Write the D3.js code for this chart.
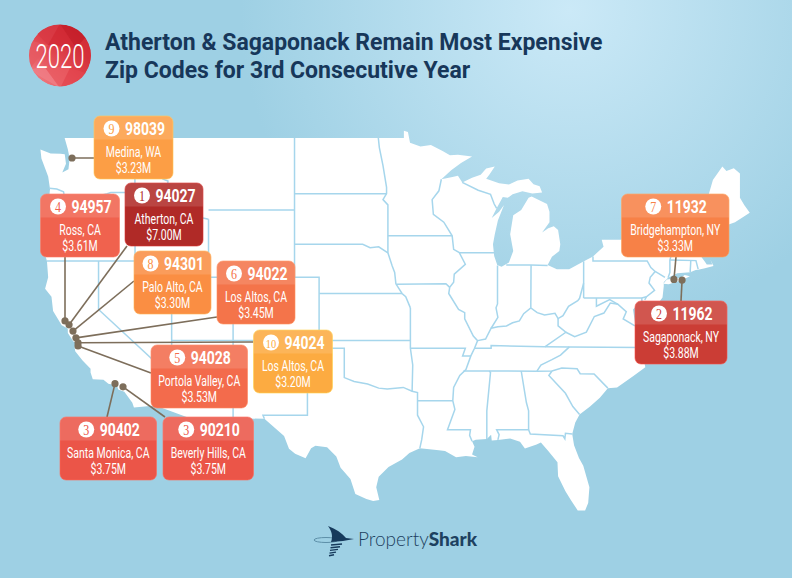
<!DOCTYPE html>
<html>
<head>
<meta charset="UTF-8">
<title>Most Expensive Zip Codes 2020</title>
<script src="https://cdnjs.cloudflare.com/ajax/libs/d3/7.8.5/d3.min.js"></script>
<style>
html, body { margin: 0; padding: 0; background: #9ed0e4; overflow: hidden; }
svg { display: block; }
.narrow { font-family: Roboto, sans-serif; }
</style>
</head>
<body>
<script>
// zip code data
var ranks = [9, 4, 1, 8, 6, 10, 5, 3, 3, 7, 2];
var zips = ["98039", "94957", "94027", "94301", "94022", "94024", "94028", "90402", "90210", "11932", "11962"];
var places = ["Medina, WA", "Ross, CA", "Atherton, CA", "Palo Alto, CA", "Los Altos, CA", "Los Altos, CA",
	"Portola Valley, CA", "Santa Monica, CA", "Beverly Hills, CA", "Bridgehampton, NY", "Sagaponack, NY"];
var prices = [3.23, 3.61, 7.00, 3.30, 3.45, 3.20, 3.53, 3.75, 3.75, 3.33, 3.88];
var dotLon = [-122.16, -122.73, -122.40, -122.08, -121.84, -121.67, -121.67, -118.66, -118.01, -73.17, -72.51];
var dotLat = [47.92, 38.27, 38.02, 37.62, 37.18, 36.86, 36.65, 34.15, 33.94, 40.87, 40.83];

var titleLines = ["Atherton & Sagaponack Remain Most Expensive", "Zip Codes for 3rd Consecutive Year"];

// map outline, lon/lat
var landOutline = [[-124.73,48.38],[-123.9,48.16],[-123.1,48.15],[-122.75,48.12],[-122.65,47.6],[-122.95,47.12],[-122.45,47.3],[-122.35,47.9],[-122.5,48.4],[-122.76,49],
	[-95.15,49],[-95.15,49.38],[-94.82,49.32],[-94.65,48.75],[-93.8,48.55],[-92.95,48.62],[-92,48.3],[-91.4,48.07],[-90.75,48.1],[-89.6,48],
	[-90.5,47.65],[-91.3,47.25],[-92.1,46.75],[-91.2,46.87],[-90.75,46.95],[-90.4,46.57],[-89.6,46.83],[-88.9,47],[-88.45,47.35],[-87.75,47.45],[-88.2,47],[-88.45,46.78],[-87.4,46.52],[-86.6,46.45],[-85.9,46.68],[-85,46.77],[-84.6,46.47],[-84.1,46.35],[-83.9,46],[-84.7,45.95],
	[-85.5,46.08],[-86.3,45.9],[-86.7,45.7],[-87.1,45.75],[-87.6,45.1],[-88,44.55],[-87.4,44.9],[-87,45.3],[-87.5,44.4],[-87.75,43.6],[-87.9,43],[-87.8,42.3],[-87.55,41.75],[-87.2,41.65],[-86.6,41.9],[-86.25,42.6],[-86.5,43.6],[-86.25,44.7],[-85.6,45],[-85,45.7],[-84.75,45.78],
	[-83.5,45.35],[-83.3,44.9],[-83.3,44.3],[-83.9,43.7],[-83.4,43.95],[-82.95,44.07],[-82.6,43.85],[-82.42,43],[-82.5,42.6],[-83.1,42.25],[-83.45,41.75],
	[-82.7,41.5],[-81.7,41.5],[-80.5,41.98],[-79.76,42.27],[-78.9,42.85],[-79.05,43.27],[-77.5,43.27],[-76.7,43.4],[-76.2,43.55],[-76.3,44.1],[-75.3,44.85],[-74.7,45],[-71.5,45.01],[-71.3,45.3],[-70.85,45.25],[-70.4,45.75],[-70,46.7],[-69.23,47.46],[-68.9,47.2],[-68.3,47.36],[-67.8,47.07],[-67.8,45.7],[-67.45,45.3],[-67,44.85],
	[-68.2,44.3],[-69,44.1],[-69.8,43.75],[-70.25,43.6],[-70.7,43.07],[-70.8,42.85],[-70.6,42.65],[-71,42.3],[-70.65,41.95],[-70.5,41.78],[-70.05,41.78],[-70.2,42.07],[-69.95,41.7],[-70.65,41.55],[-71.2,41.47],[-71.4,41.45],[-71.85,41.32],[-72.9,41.25],[-73.65,40.98],[-74,40.7],
	[-74,40.45],[-74.1,39.75],[-74.9,38.93],[-75.5,39.5],[-75.4,39.1],[-75.05,38.45],[-75.2,38],[-75.95,37.15],[-75.75,37.9],[-76.2,38.6],[-76,39.4],[-76.5,39],[-76.35,38.2],[-76.3,37.6],[-76,36.9],[-75.75,36.2],[-75.5,35.25],[-76.5,34.65],[-77.8,33.9],[-78.55,33.85],[-79.2,33.2],[-80,32.6],[-80.85,32.05],[-81.2,31.5],[-81.45,30.7],[-81.3,29.9],[-80.9,29],[-80.55,28.45],[-80.05,26.9],[-80.15,25.75],[-80.4,25.2],[-81,25.2],[-81.55,25.95],[-82,26.6],[-82.6,27.7],[-82.65,28.7],[-83.4,29.5],[-84,30.1],[-84.35,29.95],[-85.3,29.68],[-85.7,30.15],[-86.5,30.38],[-87.5,30.28],[-88,30.23],[-88.05,30.65],[-88.4,30.35],[-89.3,30.3],[-89.6,30.18],[-89.4,29.8],[-89.6,29.25],[-89.15,29.05],[-90.1,29.15],[-90.9,29.05],[-91.8,29.5],[-92.3,29.55],[-93.85,29.7],[-94.7,29.35],[-95.3,28.9],[-96.4,28.35],[-97.2,27.65],[-97.4,26.9],[-97.15,25.96],
	[-97.65,25.9],[-98.2,26.05],[-99.1,26.4],[-99.5,27.5],[-100.3,28.3],[-100.65,29.1],[-101.4,29.77],[-102.35,29.87],[-102.7,29.7],[-103.15,28.98],[-104,29.3],[-104.5,29.65],[-104.9,30.55],[-106.5,31.75],[-108.2,31.78],[-108.2,31.33],[-111.07,31.33],[-114.82,32.5],[-114.72,32.72],[-117.12,32.53],
	[-117.25,32.85],[-117.9,33.6],[-118.4,33.75],[-118.5,34.03],[-119.2,34.15],[-119.6,34.42],[-120.47,34.45],[-120.65,34.9],[-120.65,35.15],[-121.3,35.7],[-121.9,36.3],[-121.95,36.6],[-121.8,36.85],[-122.05,36.95],[-122.5,37.5],[-122.5,37.78],[-123,38],[-123.7,38.9],[-123.83,39.8],[-124.35,40.3],[-124.1,41],[-124.2,42],[-124.55,42.85],[-124.1,44],[-124.05,45.5],[-123.95,46.2],[-124.1,46.9],[-124.65,47.9],[-124.73,48.38]];

var longIsland = [[-74.03,40.6],[-73.75,40.87],[-72.6,40.98],[-72.3,41.15],[-71.87,41.07],[-72.5,40.83],[-73.6,40.58],[-74.03,40.6]];

// state lines, lon/lat
var stateLines = [
	[[-124,46.25],[-123.4,46.2],[-122.85,46.05],[-122.75,45.65],[-122.2,45.55],[-121.2,45.65],[-120.5,45.72],[-119.3,45.93],[-119,46],[-116.92,46]],
	[[-117.04,49],[-117.04,46.42],[-116.92,46],[-116.5,45.5],[-116.85,44.95],[-117.2,44.4],[-117.03,43.8],[-117.03,42]],
	[[-124.2,42],[-111.05,42]],
	[[-111.05,44.47],[-111.05,41],[-102.05,41],[-102.05,37]],
	[[-116.05,49],[-116.05,48],[-115.7,47.45],[-114.75,46.75],[-114.35,46.65],[-114.5,45.55],[-113.95,45.7],[-113.45,45.05],[-113,44.45],[-112.3,44.55],[-111.5,44.55],[-111.05,44.47]],
	[[-111.05,45],[-104.05,45]],
	[[-104.05,49],[-104.05,41]],
	[[-104.05,45.94],[-96.56,45.94]],
	[[-104.05,43],[-98.5,43],[-97.9,42.8],[-97.2,42.85],[-96.45,42.49]],
	[[-102.05,40],[-95.3,40]],
	[[-109.05,37],[-94.62,37]],
	[[-109.05,41],[-109.05,31.33]],
	[[-114.05,37],[-109.05,37]],
	[[-114.05,42],[-114.05,36.2],[-114.75,36.1],[-114.6,35.1]],
	[[-120,42],[-120,39],[-114.6,35],[-114.15,34.3],[-114.5,33.9],[-114.72,33.4],[-114.5,33],[-114.72,32.72]],
	[[-103,37],[-103,32],[-106.62,32],[-106.5,31.75]],
	[[-103,36.5],[-100,36.5],[-100,34.56],[-99.2,34.3],[-98.1,34.13],[-97.2,33.85],[-96.5,33.8],[-95.2,33.9],[-94.48,33.64],[-94.04,33.55],[-94.04,32],[-93.55,31.2],[-93.7,30.3],[-93.85,29.7]],
	[[-94.62,39.1],[-94.62,36.5],[-94.43,35.4],[-94.48,33.64]],
	[[-94.04,33],[-91.17,33]],
	[[-94.62,39.1],[-95,39.8],[-95.3,40],[-95.8,40.6],[-95.9,41.3],[-96.1,41.7],[-96.45,42.49],[-96.45,45.3],[-96.85,45.6],[-96.56,45.94],[-96.56,46.3],[-96.85,47.5],[-97.15,48.5],[-97.23,49]],
	[[-96.45,43.5],[-91.22,43.5]],
	[[-95.77,40.58],[-91.73,40.61],[-91.42,40.38]],
	[[-92.1,46.75],[-92.3,46.1],[-92.85,45.6],[-92.75,44.75],[-91.9,44.3],[-91.22,43.5],[-91.1,42.7],[-90.64,42.5],[-90.15,41.8],[-91.05,41.2],[-91.1,40.7],[-91.42,40.38],[-91.5,40],[-90.7,39],[-90.2,38.8],[-90.2,38.4],[-89.5,37.3],[-89.15,37],[-89.4,36.5],[-89.7,36],[-90.1,35.1],[-90.6,34.7],[-91.1,33.9],[-91.17,33],[-91,32.4],[-91.6,31],[-89.73,31],[-89.8,30.6],[-89.6,30.18]],
	[[-90.64,42.5],[-87.8,42.5]],
	[[-90.4,46.57],[-89.1,46.13],[-88.1,45.9],[-87.8,45.35],[-87.6,45.1]],
	[[-87.53,41.72],[-87.53,39.35],[-87.65,39.1],[-87.5,38.5],[-88.05,37.8]],
	[[-86.82,41.76],[-84.8,41.76],[-83.45,41.73]],
	[[-84.8,41.76],[-84.82,39.1]],
	[[-89.15,37],[-88.5,37.1],[-88.05,37.8],[-87.5,37.9],[-86.8,37.95],[-86.3,38.15],[-85.75,38.27],[-85.4,38.73],[-84.82,39.1],[-84.3,38.8],[-83.7,38.65],[-82.85,38.75],[-82.6,38.42],[-82.2,38.6],[-81.75,39.2],[-81,39.55],[-80.85,39.7],[-80.52,40.64]],
	[[-80.52,41.98],[-80.52,39.72]],
	[[-80.52,39.72],[-75.79,39.72],[-75.7,38.46],[-75.05,38.45]],
	[[-75.79,39.72],[-75.42,39.8]],
	[[-79.76,42.27],[-79.76,42],[-75.35,42],[-75.05,41.6],[-74.7,41.36],[-75.1,41],[-75.2,40.65],[-74.75,40.2],[-75.4,39.8],[-75.55,39.6]],
	[[-74.7,41.36],[-73.9,41]],
	[[-75.65,37.95],[-75.25,38.03]],
	[[-79.48,39.72],[-79.48,39.2],[-78.4,39.62],[-77.72,39.32],[-77.05,38.85],[-77.3,38.4],[-76.35,37.95]],
	[[-77.72,39.32],[-78.35,39.4],[-78.87,38.77],[-79.65,38.55],[-80.3,37.55],[-81.25,37.25],[-81.97,37.54]],
	[[-82.6,38.42],[-82.6,37.95],[-81.97,37.54],[-83.68,36.6]],
	[[-89.4,36.5],[-88.05,36.5],[-88.05,36.68],[-83.68,36.6],[-81.68,36.59],[-75.87,36.55]],
	[[-94.62,36.5],[-90.15,36.5],[-90.37,36],[-89.7,36]],
	[[-90.3,35],[-84.32,34.99]],
	[[-84.32,34.99],[-84,35.4],[-83.1,35.75],[-82.4,36.05],[-81.68,36.59]],
	[[-84.32,34.99],[-83.1,35],[-82.3,35.2],[-81.05,35.15],[-80.8,34.82],[-79.67,34.8],[-78.55,33.85]],
	[[-83.1,35],[-83.35,34.7],[-82,33.5],[-81.4,32.6],[-80.85,32.05]],
	[[-88.2,35],[-88.1,34.9],[-88.4,32.3],[-88.4,30.35]],
	[[-85.6,35],[-85.18,32.87],[-85,32.3],[-85,31]],
	[[-87.5,30.28],[-87.4,30.65],[-87.6,31],[-85,31],[-84.86,30.7],[-82.2,30.57],[-82.05,30.36],[-82,30.75],[-81.45,30.7]],
	[[-73.35,45.01],[-73.4,43.6],[-73.25,42.75],[-73.5,42.05],[-73.5,41.3],[-73.65,40.98]],
	[[-71.5,45.01],[-71.6,44.5],[-72.05,44.1],[-72.45,43.1],[-72.46,42.73]],
	[[-73.25,42.75],[-71.3,42.7],[-70.8,42.87]],
	[[-71.08,45.3],[-71.03,44.6],[-70.98,43.4],[-70.7,43.07]],
	[[-73.5,42.05],[-71.38,42.02],[-71.2,41.5]],
	[[-71.8,42.02],[-71.85,41.32]]
];

// card layout: left, top, width
var cardX = [94, 40.5, 125, 134, 217, 253.5, 151, 60, 163, 621.5, 635];
var cardY = [116, 194, 183, 251, 261, 330, 345, 417, 417, 194, 301];
var cardW = [79, 79, 78, 77, 78, 79, 96.5, 96.5, 90.5, 107.5, 92];
// where each leader meets its card
var leadX = [94, 65, 127, 134, 217, 253.5, 151, 107, 165, 676, 681];
var leadY = [158, 257, 246, 281, 317, 342, 373, 417, 417, 257, 301];

var rankColors = {1: "#b02a27", 2: "#cb3d35", 3: "#eb5548", 4: "#f0624e", 5: "#f36b4c", 6: "#f4744a", 7: "#f78147", 8: "#fa8e43", 9: "#fc9e45", 10: "#fcab41"};

// low poly facets on the badge
var badgeFacets = [
	["M29 25L60 24L48 45Z", "#d83a44"],
	["M60 24L92 30L76 48Z", "#c41f2a"],
	["M48 45L60 24L76 48Z", "#d22a34"],
	["M29 70L48 45L28 40Z", "#e55a62"],
	["M76 48L92 30L92 62Z", "#d5303b"],
	["M29 70L60 88L44 66Z", "#f08088"],
	["M60 88L92 75L70 68Z", "#e3464f"],
	["M44 66L70 68L60 88Z", "#e95c63"]
];

var width = 792, height = 578;
var cardH = 63, headH = 23.5;

var svg = d3.select("body").append("svg")
	.attr("width", width)
	.attr("height", height);

var defs = svg.append("defs");

var bg = defs.append("radialGradient")
	.attr("id", "bg")
	.attr("gradientUnits", "userSpaceOnUse")
	.attr("cx", 570).attr("cy", 10).attr("r", 330);
bg.append("stop").attr("offset", "0%").attr("stop-color", "#cbe9f7");
bg.append("stop").attr("offset", "100%").attr("stop-color", "#9ed0e4");

svg.append("rect")
	.attr("width", width)
	.attr("height", height)
	.attr("fill", "url(#bg)");

// plain mercator lines up with the flat 49th parallel in the picture
var projection = d3.geoMercator()
	.scale(704)
	.translate([1573, 830.6]);

var line = d3.line()
	.x(function(d){ return projection(d)[0]; })
	.y(function(d){ return projection(d)[1]; });

svg.append("path")
	.attr("d", line(landOutline) + "Z")
	.attr("fill", "#fff");

svg.append("path")
	.attr("d", line(longIsland) + "Z")
	.attr("fill", "#fff");

svg.selectAll(".state")
	.data(stateLines)
	.enter().append("path")
	.attr("class", "state")
	.attr("d", line)
	.attr("fill", "none")
	.attr("stroke", "#a6d6ec")
	.attr("stroke-width", 1.5);

// badge
defs.append("clipPath").attr("id", "badgeClip")
	.append("circle").attr("cx", 60).attr("cy", 55.5).attr("r", 31);

var badgeGrad = defs.append("linearGradient")
	.attr("id", "badgeFill")
	.attr("x1", "10%").attr("y1", "90%")
	.attr("x2", "85%").attr("y2", "10%");
badgeGrad.append("stop").attr("offset", "0%").attr("stop-color", "#f07a80");
badgeGrad.append("stop").attr("offset", "50%").attr("stop-color", "#e0434c");
badgeGrad.append("stop").attr("offset", "100%").attr("stop-color", "#c8202c");

var badge = svg.append("g").attr("clip-path", "url(#badgeClip)");
badge.append("circle")
	.attr("cx", 60).attr("cy", 55.5).attr("r", 31)
	.attr("fill", "url(#badgeFill)");
badge.selectAll("path")
	.data(badgeFacets)
	.enter().append("path")
	.attr("d", function(d){ return d[0]; })
	.attr("fill", function(d){ return d[1]; })
	.attr("opacity", 0.75);

svg.append("text")
	.attr("class", "narrow")
	.attr("x", 60).attr("y", 67.5)
	.attr("text-anchor", "middle")
	.attr("font-size", 33)
	.attr("font-weight", 300)
	.attr("textLength", 49)
	.attr("lengthAdjust", "spacingAndGlyphs")
	.attr("fill", "#fff")
	.text("2020");

// title
svg.selectAll(".title")
	.data(titleLines)
	.enter().append("text")
	.attr("class", "title")
	.attr("x", 105)
	.attr("y", function(d, i){ return 49.5 + i * 28; })
	.attr("font-family", "Roboto, sans-serif")
	.attr("font-weight", 700)
	.attr("font-size", 23)
	.attr("fill", "#17375a")
	.text(function(d){ return d; });

// leaders
var idx = d3.range(zips.length);

svg.selectAll(".leader")
	.data(idx)
	.enter().append("line")
	.attr("class", "leader")
	.attr("x1", function(i){ return projection([dotLon[i], dotLat[i]])[0]; })
	.attr("y1", function(i){ return projection([dotLon[i], dotLat[i]])[1]; })
	.attr("x2", function(i){ return leadX[i]; })
	.attr("y2", function(i){ return leadY[i]; })
	.attr("stroke", "#7d6e5b")
	.attr("stroke-width", 1.6);

svg.selectAll(".dot")
	.data(idx)
	.enter().append("circle")
	.attr("class", "dot")
	.attr("cx", function(i){ return projection([dotLon[i], dotLat[i]])[0]; })
	.attr("cy", function(i){ return projection([dotLon[i], dotLat[i]])[1]; })
	.attr("r", 3.6)
	.attr("fill", "#7d6e5b");

// cards
var cards = svg.selectAll(".card")
	.data(idx)
	.enter().append("g")
	.attr("class", "card")
	.attr("transform", function(i){ return "translate(" + cardX[i] + "," + cardY[i] + ")"; });

cards.append("rect")
	.attr("width", function(i){ return cardW[i]; })
	.attr("height", cardH)
	.attr("rx", 6)
	.attr("fill", function(i){ return rankColors[ranks[i]]; })
	.attr("stroke", function(i){ return d3.color(rankColors[ranks[i]]).brighter(0.6); })
	.attr("stroke-opacity", 0.6)
	.attr("stroke-width", 1);

cards.append("path")
	.attr("d", function(i){
		var w = cardW[i], r = 6;
		return "M0 " + headH + "V" + r + "Q0 0 " + r + " 0H" + (w - r) + "Q" + w + " 0 " + w + " " + r + "V" + headH + "Z";
	})
	.attr("fill", "#fff")
	.attr("opacity", 0.13);

cards.append("circle")
	.attr("cx", function(i){ return cardW[i] / 2 - 22; })
	.attr("cy", 12.5)
	.attr("r", 8)
	.attr("fill", "#fff");

cards.append("text")
	.attr("transform", function(i){ return "translate(" + (cardW[i] / 2 - 22) + ",17.5) scale(0.8,1)"; })
	.attr("text-anchor", "middle")
	.attr("font-family", "Liberation Serif, serif")
	.attr("font-size", function(i){ return ranks[i] == 10 ? 13 : 15; })
	.attr("fill", function(i){ return rankColors[ranks[i]]; })
	.text(function(i){ return ranks[i]; });

// the reference type is a condensed face, so squeeze Roboto to the same widths
cards.append("text")
	.attr("class", "narrow")
	.attr("transform", function(i){ return "translate(" + (cardW[i] / 2 - 8.5) + ",18.5) scale(0.8,1)"; })
	.attr("font-size", 17.5)
	.attr("font-weight", 700)
	.attr("fill", "#fff")
	.text(function(i){ return zips[i]; });

cards.append("text")
	.attr("class", "narrow")
	.attr("transform", function(i){ return "translate(" + (cardW[i] / 2) + ",40.5) scale(0.75,1)"; })
	.attr("text-anchor", "middle")
	.attr("font-size", 14)
	.attr("fill", "#fff")
	.text(function(i){ return places[i]; });

cards.append("text")
	.attr("class", "narrow")
	.attr("transform", function(i){ return "translate(" + (cardW[i] / 2) + ",56.5) scale(0.75,1)"; })
	.attr("text-anchor", "middle")
	.attr("font-size", 14)
	.attr("fill", "#fff")
	.text(function(i){ return "$" + prices[i].toFixed(2) + "M"; });

// logo
var logo = svg.append("g");

logo.append("ellipse")
	.attr("cx", 326).attr("cy", 540).attr("rx", 12).attr("ry", 2.5)
	.attr("fill", "none")
	.attr("stroke", "#5d8fa8")
	.attr("stroke-width", 1);

logo.append("path")
	.attr("d", "M328 526C336 529 342 533 346 538L354 539L343 541L331 542C333 537 332 531 328 526Z")
	.attr("fill", "#163a5c");

logo.selectAll(".wake")
	.data([0, 1, 2, 3, 4])
	.enter().append("path")
	.attr("class", "wake")
	.attr("d", function(d){ return "M" + (342 - d * 2) + " " + (544 + d * 2.7) + "L" + (331 - d * 0.5) + " " + (545 + d * 2.7); })
	.attr("stroke", "#163a5c")
	.attr("stroke-width", 1.4);

var logoText = logo.append("text")
	.attr("x", 358).attr("y", 545.5)
	.attr("font-family", "Lato, sans-serif")
	.attr("font-size", 19)
	.attr("fill", "#1d4160");
logoText.append("tspan").attr("font-weight", 300).text("Property");
logoText.append("tspan").attr("font-weight", 900).text("Shark");

</script>
</body>
</html>
